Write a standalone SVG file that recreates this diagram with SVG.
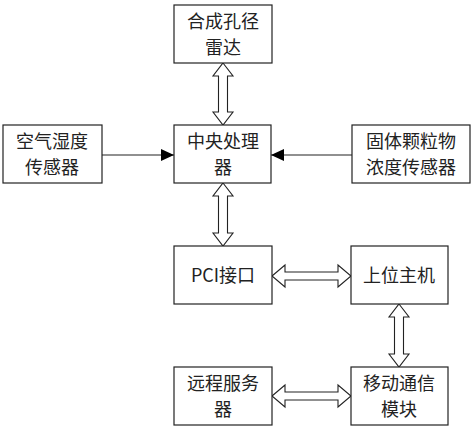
<svg xmlns="http://www.w3.org/2000/svg" width="474" height="430" viewBox="0 0 474 430">
<style>
.box{fill:#fff;stroke:#222;stroke-width:1.2}
.t{font-family:"Noto Sans CJK SC","Noto Sans",sans-serif;font-size:18px;fill:#222;text-anchor:middle}
.da{fill:#fff;stroke:#222;stroke-width:1.1;stroke-linejoin:miter}
.ln{stroke:#222;stroke-width:1.1;fill:none}
</style>
<defs>
<marker id="ah" markerWidth="13" markerHeight="12" refX="13" refY="6" orient="auto" markerUnits="userSpaceOnUse">
<path d="M0,0 L13,6 L0,12 Z" fill="#000"/>
</marker>
</defs>
<rect width="474" height="430" fill="#fff"/>
<g id="connectors">
<polygon class="da" points="223,63 233,76 227.5,76 227.5,112 233,112 223,125 213,112 218.5,112 218.5,76 213,76"/>
<polygon class="da" points="223,183 233,196 227.5,196 227.5,233 233,233 223,246 213,233 218.5,233 218.5,196 213,196"/>
<polygon class="da" points="399,304 409,317 403.5,317 403.5,354 409,354 399,367 389,354 394.5,354 394.5,317 389,317"/>
<polygon class="da" points="272,276 285,265 285,272 338,272 338,265 351,276 338,287 338,280 285,280 285,287"/>
<polygon class="da" points="272,396 285,385 285,392 338,392 338,385 351,396 338,407 338,400 285,400 285,407"/>
<line class="ln" x1="102" y1="155" x2="174" y2="155" marker-end="url(#ah)"/>
<line class="ln" x1="352" y1="155" x2="271" y2="155" marker-end="url(#ah)"/>
</g>
<g id="radar"><rect class="box" x="174" y="5" width="98" height="58"/><text class="t" x="223" y="28">合成孔径</text><text class="t" x="223" y="54.4">雷达</text></g>
<g id="humidity"><rect class="box" x="3" y="125" width="99" height="58"/><text class="t" x="52" y="148">空气湿度</text><text class="t" x="52" y="174.4">传感器</text></g>
<g id="cpu"><rect class="box" x="174" y="125" width="97" height="58"/><text class="t" x="223" y="148">中央处理</text><text class="t" x="223" y="174.4">器</text></g>
<g id="particle"><rect class="box" x="352" y="125" width="118" height="58"/><text class="t" x="411" y="148">固体颗粒物</text><text class="t" x="411" y="174.4">浓度传感器</text></g>
<g id="pci"><rect class="box" x="174" y="246" width="98" height="58"/><text class="t" x="223" y="282">PCI接口</text></g>
<g id="host"><rect class="box" x="351" y="246" width="97" height="58"/><text class="t" x="399" y="282">上位主机</text></g>
<g id="server"><rect class="box" x="174" y="367" width="98" height="58"/><text class="t" x="223" y="390">远程服务</text><text class="t" x="223" y="416.4">器</text></g>
<g id="mobile"><rect class="box" x="351" y="367" width="97" height="58"/><text class="t" x="399" y="390">移动通信</text><text class="t" x="399" y="416.4">模块</text></g>
</svg>
